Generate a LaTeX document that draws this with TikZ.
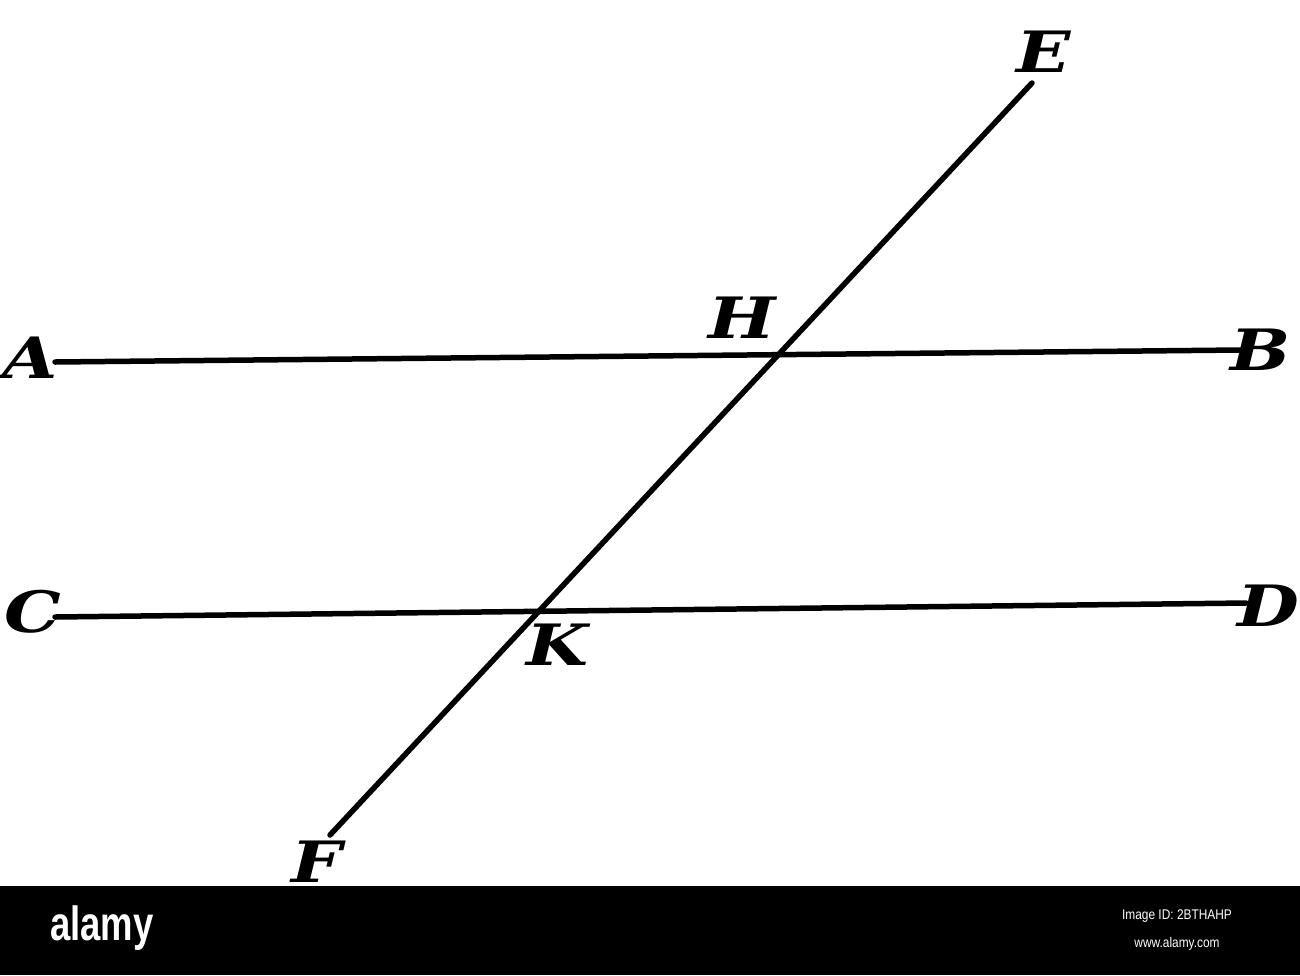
\documentclass[tikz,border=0pt]{standalone}
\usepackage{fontspec}
\setmainfont{DejaVu Serif}
\newfontfamily\stocksans{Liberation Sans}
\usetikzlibrary{positioning}

\begin{document}
\begin{tikzpicture}[
    x=1pt, y=-1pt,
    pointlabel/.style={inner sep=0pt, xscale=1.25, font=\fontsize{57}{57}\selectfont\bfseries\itshape},
    line/.style={line width=5.5pt, line cap=round},
    stamp/.style={text=white, inner sep=0pt, font=\stocksans\fontsize{14}{14}\selectfont, xscale=0.85}
]
\useasboundingbox (0,0) rectangle (1300,975);

% End points of the three lines
\coordinate (a) at (55,362);
\coordinate (b) at (1240,350);
\coordinate (c) at (55,617);
\coordinate (d) at (1246,603);
\coordinate (e) at (1032,83);
\coordinate (f) at (330,835);

% Parallels and transversal
\draw[line] (a) -- (b);
\draw[line] (c) -- (d);
\draw[line] (e) -- (f);

% Point labels
\node[pointlabel] (A) at (30,358) {A};
\node[pointlabel] (B) at (1261,350) {B};
\node[pointlabel] (C) at (33,612) {C};
\node[pointlabel] (D) at (1268,606) {D};
\node[pointlabel] (E) at (1044,52) {E};
\node[pointlabel] (F) at (317,862) {F};
\node[pointlabel] (H) at (742,318) {H};
\node[pointlabel] (K) at (557,645) {K};

% Stock bar at the bottom
\fill[black] (0,886) rectangle (1300,975);
\node[stamp, font=\stocksans\bfseries\fontsize{48}{48}\selectfont, xscale=0.76/0.85] (logo) at (102,928) {alamy};
\node[stamp] (imageid) at (1177,916) {Image ID: 2BTHAHP};
\node[stamp, below=15pt of imageid] (site) {www.alamy.com};

\end{tikzpicture}
\end{document}
